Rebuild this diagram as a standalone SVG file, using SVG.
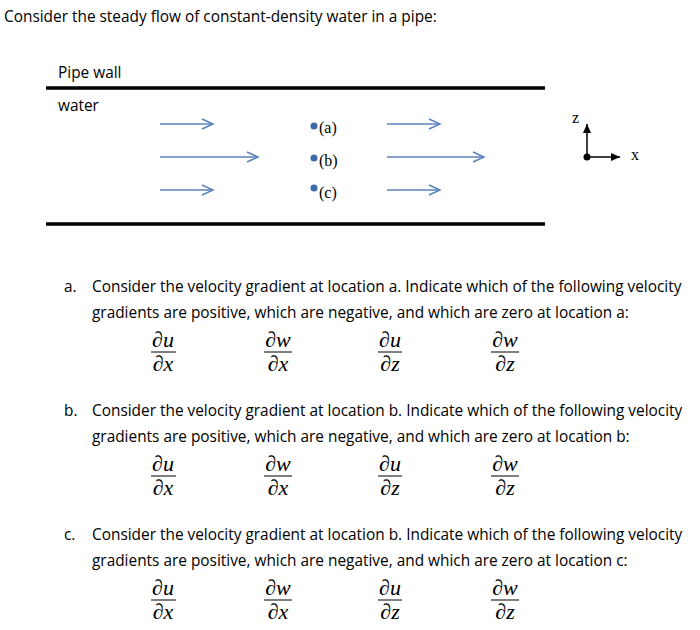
<svg xmlns="http://www.w3.org/2000/svg" width="700" height="630" viewBox="0 0 700 630">
<style>
.t{font-family:"Open Sans","Liberation Sans",sans-serif;font-size:15.4px;fill:#000}
.s{font-family:"Liberation Serif","Times New Roman","DejaVu Serif",serif;font-size:16px;fill:#000}
.f{font-family:"Liberation Serif","Times New Roman","DejaVu Serif",serif;font-style:italic;font-size:22px;fill:#000;text-anchor:middle}
.fl{stroke:#000;stroke-width:1}
.fa{stroke:#5b82bb;stroke-width:1.5;fill:none}
.wall{stroke:#000;stroke-width:3.5}
</style>
<defs>
<marker id="oa" markerWidth="14" markerHeight="12" refX="12" refY="6" orient="auto" markerUnits="userSpaceOnUse"><path d="M1,1 L12,6 L1,11" fill="none" stroke="#5b82bb" stroke-width="1.5"/></marker>
<marker id="ba" markerWidth="10" markerHeight="10" refX="9" refY="5" orient="auto" markerUnits="userSpaceOnUse"><path d="M0,1 L9,5 L0,9Z" fill="#000"/></marker>
</defs>
<rect width="700" height="630" fill="#fff"/>
<text class="t" x="4" y="22">Consider the steady flow of constant-density water in a pipe:</text>
<g id="pipe">
<text class="t" x="58" y="78">Pipe wall</text>
<line class="wall" x1="46" y1="88" x2="545" y2="88"/>
<text class="t" x="58" y="111">water</text>
<line class="wall" x1="46" y1="224" x2="545" y2="224"/>
</g>
<g id="connectors">
<line class="fa" x1="160" y1="124" x2="213" y2="124" marker-end="url(#oa)"/>
<line class="fa" x1="160" y1="157" x2="258" y2="157" marker-end="url(#oa)"/>
<line class="fa" x1="160" y1="190" x2="213" y2="190" marker-end="url(#oa)"/>
<line class="fa" x1="387" y1="124" x2="440" y2="124" marker-end="url(#oa)"/>
<line class="fa" x1="387" y1="157" x2="484" y2="157" marker-end="url(#oa)"/>
<line class="fa" x1="387" y1="190" x2="440" y2="190" marker-end="url(#oa)"/>
<line x1="587" y1="157" x2="587" y2="124" stroke="#000" stroke-width="1.5" marker-end="url(#ba)"/>
<line x1="587" y1="157" x2="620" y2="157" stroke="#000" stroke-width="1.5" marker-end="url(#ba)"/>
</g>
<g id="points">
<circle cx="314" cy="126" r="3.5" fill="#3c6aa6"/><text class="s" x="319" y="133">(a)</text>
<circle cx="314" cy="158" r="3.5" fill="#3c6aa6"/><text class="s" x="319" y="166">(b)</text>
<circle cx="314" cy="188" r="3.5" fill="#3c6aa6"/><text class="s" x="319" y="198">(c)</text>
</g>
<g id="axes">
<circle cx="587" cy="157" r="3.5" fill="#000"/>
<text class="s" x="572" y="123" font-size="14">z</text>
<text class="s" x="631" y="160" font-size="14">x</text>
</g>
<g id="qa">
<text class="t" x="64" y="292">a.</text>
<text class="t" x="92" y="292">Consider the velocity gradient at location a.  Indicate which of the following velocity</text>
<text class="t" x="92" y="318">gradients are positive, which are negative, and which are zero at location a:</text>
<text class="f" x="163" y="347">∂u</text><line class="fl" x1="151" y1="352" x2="176" y2="352"/><text class="f" x="163" y="371">∂x</text>
<text class="f" x="278" y="347">∂w</text><line class="fl" x1="264" y1="352" x2="292" y2="352"/><text class="f" x="278" y="371">∂x</text>
<text class="f" x="390" y="347">∂u</text><line class="fl" x1="378" y1="352" x2="402" y2="352"/><text class="f" x="390" y="371">∂z</text>
<text class="f" x="505" y="347">∂w</text><line class="fl" x1="491" y1="352" x2="519" y2="352"/><text class="f" x="505" y="371">∂z</text>
</g>
<g id="qb">
<text class="t" x="64" y="416">b.</text>
<text class="t" x="92" y="416">Consider the velocity gradient at location b.  Indicate which of the following velocity</text>
<text class="t" x="92" y="442">gradients are positive, which are negative, and which are zero at location b:</text>
<text class="f" x="163" y="471">∂u</text><line class="fl" x1="151" y1="476" x2="176" y2="476"/><text class="f" x="163" y="495">∂x</text>
<text class="f" x="278" y="471">∂w</text><line class="fl" x1="264" y1="476" x2="292" y2="476"/><text class="f" x="278" y="495">∂x</text>
<text class="f" x="390" y="471">∂u</text><line class="fl" x1="378" y1="476" x2="402" y2="476"/><text class="f" x="390" y="495">∂z</text>
<text class="f" x="505" y="471">∂w</text><line class="fl" x1="491" y1="476" x2="519" y2="476"/><text class="f" x="505" y="495">∂z</text>
</g>
<g id="qc">
<text class="t" x="64" y="540">c.</text>
<text class="t" x="92" y="540">Consider the velocity gradient at location b.  Indicate which of the following velocity</text>
<text class="t" x="92" y="566">gradients are positive, which are negative, and which are zero at location c:</text>
<text class="f" x="163" y="595">∂u</text><line class="fl" x1="151" y1="600" x2="176" y2="600"/><text class="f" x="163" y="619">∂x</text>
<text class="f" x="278" y="595">∂w</text><line class="fl" x1="264" y1="600" x2="292" y2="600"/><text class="f" x="278" y="619">∂x</text>
<text class="f" x="390" y="595">∂u</text><line class="fl" x1="378" y1="600" x2="402" y2="600"/><text class="f" x="390" y="619">∂z</text>
<text class="f" x="505" y="595">∂w</text><line class="fl" x1="491" y1="600" x2="519" y2="600"/><text class="f" x="505" y="619">∂z</text>
</g>
</svg>
